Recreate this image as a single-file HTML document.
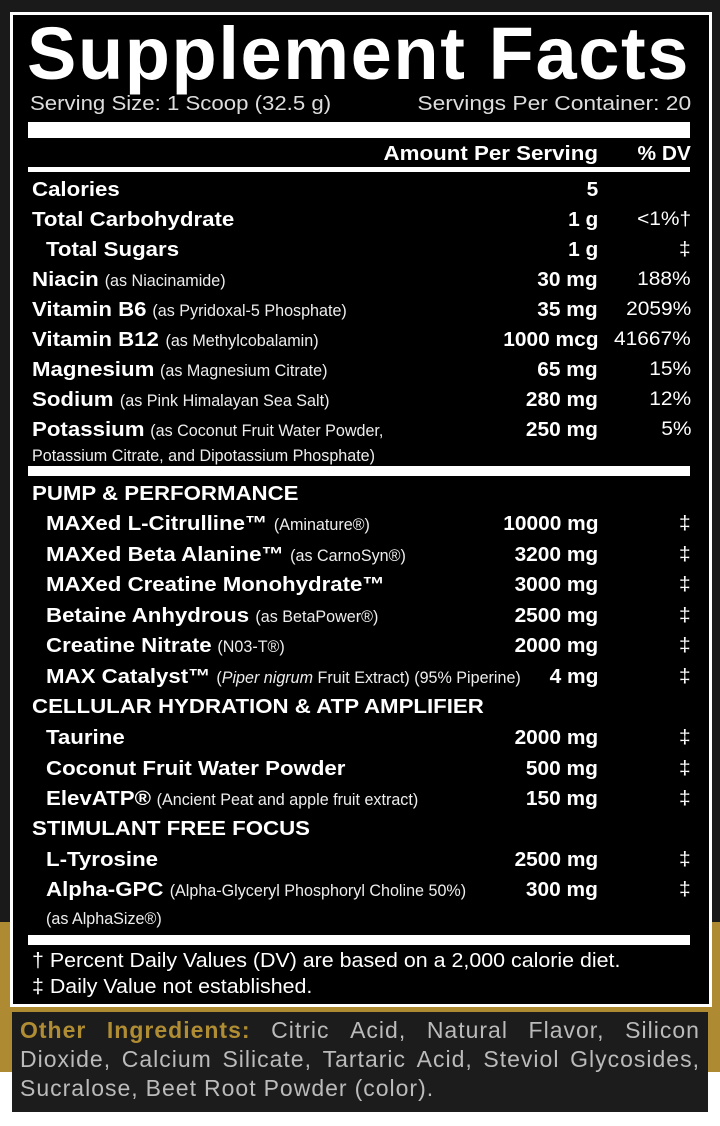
<!DOCTYPE html>
<html><head><meta charset="utf-8"><style>
*{margin:0;padding:0;box-sizing:border-box}
body{width:720px;height:1126px;position:relative;background:#fff;font-family:"Liberation Sans",sans-serif;color:#fff;overflow:hidden}
.bg1{position:absolute;left:0;top:0;width:720px;height:922px;background:#1a1a1a}
.bg2{position:absolute;left:0;top:922px;width:720px;height:150px;background:#ae8b33}
.box{position:absolute;left:10px;top:12px;width:702px;height:995px;background:#000;border:3px solid #fff}
.bar{position:absolute;left:28px;width:662px;background:#fff}
.t{position:absolute;white-space:nowrap;line-height:24px;height:24px}
.l{left:32px;transform:scaleX(1.085);transform-origin:left center;font-weight:bold;font-size:20.5px}
.l2{left:46px}
.l span{display:inline-block;font-weight:normal;font-size:16.5px;color:#eee;transform:scaleX(.9);transform-origin:left center}
.a{right:122px;transform:scaleX(1.03);transform-origin:right center;font-weight:bold;font-size:20.3px}
.d{right:29px;transform:scaleX(1.1);transform-origin:right center;font-size:19px}
.oi{position:absolute;left:12px;top:1012px;width:696px;height:100px;background:#1c1c1c;color:#bbb;font-size:23px;line-height:29px;padding:4px 8px 0 8px;letter-spacing:1px}
.oi div{white-space:nowrap;display:flex;justify-content:space-between}
</style></head><body>
<div class="bg1"></div><div class="bg2"></div>
<div class="box"></div>
<div class="t" style="left:27px;top:18px;height:72px;line-height:72px;font-size:74px;font-weight:bold;letter-spacing:1.6px">Supplement Facts</div>
<div class="t" style="left:30px;top:92px;font-size:20px;transform:scaleX(1.11);transform-origin:left center;color:#ddd">Serving Size: 1 Scoop (32.5 g)</div>
<div class="t" style="right:29px;top:92px;font-size:20px;transform:scaleX(1.14);transform-origin:right center;color:#ddd">Servings Per Container: 20</div>
<div class="bar" style="top:122px;height:16px"></div>
<div class="t a" style="top:142px;transform:scaleX(1.1)">Amount Per Serving</div>
<div class="t a" style="right:29px;top:142px">% DV</div>
<div class="bar" style="top:167px;height:5px"></div>

<div class="t l" style="top:178px">Calories</div><div class="t a" style="top:178px">5</div>
<div class="t l" style="top:208px">Total Carbohydrate</div><div class="t a" style="top:208px">1 g</div><div class="t d" style="top:208px">&lt;1%†</div>
<div class="t l l2" style="top:238px">Total Sugars</div><div class="t a" style="top:238px">1 g</div><div class="t d" style="top:238px">‡</div>
<div class="t l" style="top:268px">Niacin <span>(as Niacinamide)</span></div><div class="t a" style="top:268px">30 mg</div><div class="t d" style="top:268px">188%</div>
<div class="t l" style="top:298px">Vitamin B6 <span>(as Pyridoxal-5 Phosphate)</span></div><div class="t a" style="top:298px">35 mg</div><div class="t d" style="top:298px">2059%</div>
<div class="t l" style="top:328px">Vitamin B12 <span>(as Methylcobalamin)</span></div><div class="t a" style="top:328px">1000 mcg</div><div class="t d" style="top:328px">41667%</div>
<div class="t l" style="top:358px">Magnesium <span>(as Magnesium Citrate)</span></div><div class="t a" style="top:358px">65 mg</div><div class="t d" style="top:358px">15%</div>
<div class="t l" style="top:388px">Sodium <span>(as Pink Himalayan Sea Salt)</span></div><div class="t a" style="top:388px">280 mg</div><div class="t d" style="top:388px">12%</div>
<div class="t l" style="top:418px">Potassium <span>(as Coconut Fruit Water Powder,</span></div><div class="t a" style="top:418px">250 mg</div><div class="t d" style="top:418px">5%</div>
<div class="t l" style="top:443px"><span>Potassium Citrate, and Dipotassium Phosphate)</span></div>
<div class="bar" style="top:466px;height:10px"></div>

<div class="t l" style="top:482px">PUMP &amp; PERFORMANCE</div>
<div class="t l l2" style="top:512px">MAXed L-Citrulline™ <span>(Aminature®)</span></div><div class="t a" style="top:512px">10000 mg</div><div class="t d" style="top:512px">‡</div>
<div class="t l l2" style="top:543px">MAXed Beta Alanine™ <span>(as CarnoSyn®)</span></div><div class="t a" style="top:543px">3200 mg</div><div class="t d" style="top:543px">‡</div>
<div class="t l l2" style="top:573px">MAXed Creatine Monohydrate™</div><div class="t a" style="top:573px">3000 mg</div><div class="t d" style="top:573px">‡</div>
<div class="t l l2" style="top:604px">Betaine Anhydrous <span>(as BetaPower®)</span></div><div class="t a" style="top:604px">2500 mg</div><div class="t d" style="top:604px">‡</div>
<div class="t l l2" style="top:634px">Creatine Nitrate <span>(N03-T®)</span></div><div class="t a" style="top:634px">2000 mg</div><div class="t d" style="top:634px">‡</div>
<div class="t l l2" style="top:665px">MAX Catalyst™ <span>(<i>Piper nigrum</i> Fruit Extract) (95% Piperine)</span></div><div class="t a" style="top:665px">4 mg</div><div class="t d" style="top:665px">‡</div>
<div class="t l" style="top:695px">CELLULAR HYDRATION &amp; ATP AMPLIFIER</div>
<div class="t l l2" style="top:726px">Taurine</div><div class="t a" style="top:726px">2000 mg</div><div class="t d" style="top:726px">‡</div>
<div class="t l l2" style="top:757px">Coconut Fruit Water Powder</div><div class="t a" style="top:757px">500 mg</div><div class="t d" style="top:757px">‡</div>
<div class="t l l2" style="top:787px">ElevATP® <span>(Ancient Peat and apple fruit extract)</span></div><div class="t a" style="top:787px">150 mg</div><div class="t d" style="top:787px">‡</div>
<div class="t l" style="top:817px">STIMULANT FREE FOCUS</div>
<div class="t l l2" style="top:848px">L-Tyrosine</div><div class="t a" style="top:848px">2500 mg</div><div class="t d" style="top:848px">‡</div>
<div class="t l l2" style="top:878px">Alpha-GPC <span>(Alpha-Glyceryl Phosphoryl Choline 50%)</span></div><div class="t a" style="top:878px">300 mg</div><div class="t d" style="top:878px">‡</div>
<div class="t l l2" style="top:906px"><span>(as AlphaSize®)</span></div>
<div class="bar" style="top:935px;height:10px"></div>
<div class="t" style="left:32px;top:949px;font-size:20px;transform:scaleX(1.07);transform-origin:left center">† Percent Daily Values (DV) are based on a 2,000 calorie diet.</div>
<div class="t" style="left:32px;top:975px;font-size:20px;transform:scaleX(1.07);transform-origin:left center">‡ Daily Value not established.</div>

<div class="oi">
<div><b style="color:#b08d33">Other</b><b style="color:#b08d33">Ingredients:</b><span>Citric</span><span>Acid,</span><span>Natural</span><span>Flavor,</span><span>Silicon</span></div>
<div><span>Dioxide,</span><span>Calcium</span><span>Silicate,</span><span>Tartaric</span><span>Acid,</span><span>Steviol</span><span>Glycosides,</span></div>
<div style="justify-content:flex-start;gap:7px"><span>Sucralose,</span><span>Beet</span><span>Root</span><span>Powder</span><span>(color).</span></div>
</div>
</body></html>
